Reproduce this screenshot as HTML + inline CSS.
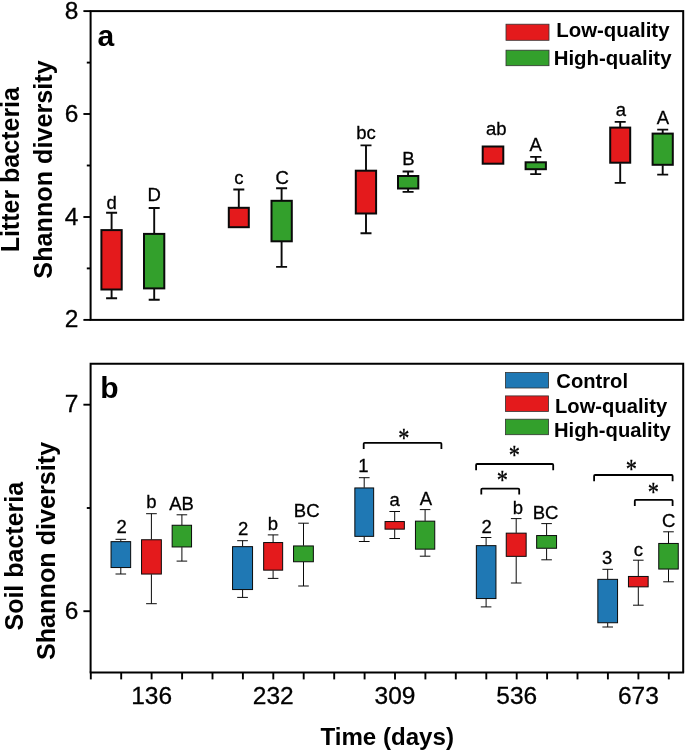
<!DOCTYPE html>
<html lang="en"><head><meta charset="utf-8"><title>Shannon diversity of litter and soil bacteria</title>
<style>html,body{margin:0;padding:0;background:#fff}body{width:685px;height:752px;overflow:hidden}</style></head>
<body>
<svg width="685" height="752" viewBox="0 0 685 752" style="display:block" font-family="'Liberation Sans', Arial, sans-serif" fill="#000">
<rect width="685" height="752" fill="#fff"/>
<rect x="90.6" y="11.1" width="592.6" height="308.8" fill="none" stroke="#000" stroke-width="2.0"/>
<path d="M90.6 319.9h-7.2" stroke="#000" stroke-width="1.9"/>
<text x="78.3" y="327.4" font-size="24.5" text-anchor="end" stroke="#000" stroke-width="0.3">2</text>
<path d="M90.6 217.0h-7.2" stroke="#000" stroke-width="1.9"/>
<text x="78.3" y="224.5" font-size="24.5" text-anchor="end" stroke="#000" stroke-width="0.3">4</text>
<path d="M90.6 114.0h-7.2" stroke="#000" stroke-width="1.9"/>
<text x="78.3" y="121.5" font-size="24.5" text-anchor="end" stroke="#000" stroke-width="0.3">6</text>
<path d="M90.6 11.1h-7.2" stroke="#000" stroke-width="1.9"/>
<text x="78.3" y="18.6" font-size="24.5" text-anchor="end" stroke="#000" stroke-width="0.3">8</text>
<path d="M90.6 268.4h-3.8" stroke="#000" stroke-width="1.9"/>
<path d="M90.6 165.5h-3.8" stroke="#000" stroke-width="1.9"/>
<path d="M90.6 62.6h-3.8" stroke="#000" stroke-width="1.9"/>
<path d="M111.6 229.6V212.7M106.1 212.7H117.1" stroke="#0a0a0a" stroke-width="1.9" fill="none"/><path d="M111.6 290.0V298.2M106.1 298.2H117.1" stroke="#0a0a0a" stroke-width="1.9" fill="none"/><rect x="101.40" y="230.10" width="20.30" height="59.40" fill="#e41a1c" stroke="#0a0a0a" stroke-width="2.0"/>
<text x="111.6" y="209.2" font-size="18.5" text-anchor="middle" stroke="#000" stroke-width="0.3">d</text>
<path d="M154.2 233.4V208.0M148.7 208.0H159.7" stroke="#0a0a0a" stroke-width="1.9" fill="none"/><path d="M154.2 288.9V299.7M148.7 299.7H159.7" stroke="#0a0a0a" stroke-width="1.9" fill="none"/><rect x="144.00" y="233.90" width="20.30" height="54.50" fill="#33a02c" stroke="#0a0a0a" stroke-width="2.0"/>
<text x="154.2" y="201.3" font-size="18.5" text-anchor="middle" stroke="#000" stroke-width="0.3">D</text>
<path d="M238.8 207.3V189.5M233.3 189.5H244.3" stroke="#0a0a0a" stroke-width="1.9" fill="none"/><rect x="228.80" y="207.80" width="20.00" height="19.40" fill="#e41a1c" stroke="#0a0a0a" stroke-width="2.0"/>
<text x="238.8" y="183.6" font-size="18.5" text-anchor="middle" stroke="#000" stroke-width="0.3">c</text>
<path d="M281.6 200.3V188.3M276.1 188.3H287.1" stroke="#0a0a0a" stroke-width="1.9" fill="none"/><path d="M281.6 241.8V266.9M276.1 266.9H287.1" stroke="#0a0a0a" stroke-width="1.9" fill="none"/><rect x="271.50" y="200.80" width="20.30" height="40.50" fill="#33a02c" stroke="#0a0a0a" stroke-width="2.0"/>
<text x="282.2" y="184.0" font-size="18.5" text-anchor="middle" stroke="#000" stroke-width="0.3">C</text>
<path d="M366.0 170.2V145.4M360.5 145.4H371.5" stroke="#0a0a0a" stroke-width="1.9" fill="none"/><path d="M366.0 214.0V233.3M360.5 233.3H371.5" stroke="#0a0a0a" stroke-width="1.9" fill="none"/><rect x="355.80" y="170.70" width="20.30" height="42.80" fill="#e41a1c" stroke="#0a0a0a" stroke-width="2.0"/>
<text x="366.0" y="139.0" font-size="18.5" text-anchor="middle" stroke="#000" stroke-width="0.3">bc</text>
<path d="M408.1 175.5V171.5M402.6 171.5H413.6" stroke="#0a0a0a" stroke-width="1.9" fill="none"/><path d="M408.1 189.0V191.9M402.6 191.9H413.6" stroke="#0a0a0a" stroke-width="1.9" fill="none"/><rect x="398.00" y="176.00" width="20.30" height="12.50" fill="#33a02c" stroke="#0a0a0a" stroke-width="2.0"/>
<text x="408.4" y="165.3" font-size="18.5" text-anchor="middle" stroke="#000" stroke-width="0.3">B</text>
<rect x="482.70" y="146.50" width="20.60" height="17.20" fill="#e41a1c" stroke="#0a0a0a" stroke-width="2.0"/>
<text x="496.2" y="134.7" font-size="18.5" text-anchor="middle" stroke="#000" stroke-width="0.3">ab</text>
<path d="M535.8 161.8V156.9M530.2 156.9H541.2" stroke="#0a0a0a" stroke-width="1.9" fill="none"/><path d="M535.8 169.7V174.1M530.2 174.1H541.2" stroke="#0a0a0a" stroke-width="1.9" fill="none"/><rect x="525.60" y="162.30" width="20.30" height="6.90" fill="#33a02c" stroke="#0a0a0a" stroke-width="2.0"/>
<text x="535.7" y="151.3" font-size="18.5" text-anchor="middle" stroke="#000" stroke-width="0.3">A</text>
<path d="M620.2 127.1V121.9M614.7 121.9H625.7" stroke="#0a0a0a" stroke-width="1.9" fill="none"/><path d="M620.2 163.2V182.9M614.7 182.9H625.7" stroke="#0a0a0a" stroke-width="1.9" fill="none"/><rect x="610.20" y="127.60" width="20.00" height="35.10" fill="#e41a1c" stroke="#0a0a0a" stroke-width="2.0"/>
<text x="620.8" y="116.1" font-size="18.5" text-anchor="middle" stroke="#000" stroke-width="0.3">a</text>
<path d="M662.7 133.1V129.6M657.2 129.6H668.2" stroke="#0a0a0a" stroke-width="1.9" fill="none"/><path d="M662.7 165.3V174.6M657.2 174.6H668.2" stroke="#0a0a0a" stroke-width="1.9" fill="none"/><rect x="652.60" y="133.60" width="20.20" height="31.20" fill="#33a02c" stroke="#0a0a0a" stroke-width="2.0"/>
<text x="662.8" y="123.5" font-size="18.5" text-anchor="middle" stroke="#000" stroke-width="0.3">A</text>
<text x="97.6" y="46.1" font-size="30" text-anchor="start" font-weight="bold">a</text>
<rect x="506" y="24.2" width="43" height="16.1" fill="#e41a1c" stroke="#333" stroke-width="0.8"/>
<text x="669.5" y="37.4" font-size="20.4" text-anchor="end" font-weight="bold">Low-quality</text>
<rect x="506" y="50.2" width="43" height="15.5" fill="#33a02c" stroke="#333" stroke-width="0.8"/>
<text x="671.5" y="64.8" font-size="20.4" text-anchor="end" font-weight="bold">High-quality</text>
<text transform="translate(19.3,169.7) rotate(-90)" font-size="25" font-weight="bold" text-anchor="middle">Litter bacteria</text>
<text transform="translate(51.9,169.5) rotate(-90)" font-size="25.2" font-weight="bold" text-anchor="middle">Shannon diversity</text>
<path d="M90.6 672.4V363.8H683.2V672.4" fill="none" stroke="#000" stroke-width="2.0"/>
<path d="M89.69999999999999 672.4H684.1" fill="none" stroke="#000" stroke-width="2.0"/>
<path d="M90.6 404.7h-7.2" stroke="#000" stroke-width="1.9"/>
<text x="78.3" y="412.2" font-size="24.5" text-anchor="end" stroke="#000" stroke-width="0.3">7</text>
<path d="M90.6 611.2h-7.2" stroke="#000" stroke-width="1.9"/>
<text x="78.3" y="618.7" font-size="24.5" text-anchor="end" stroke="#000" stroke-width="0.3">6</text>
<path d="M90.6 508.0h-3.8" stroke="#000" stroke-width="1.9"/>
<path d="M90.8 672.4v7" stroke="#000" stroke-width="1.9"/>
<path d="M121.2 672.4v7" stroke="#000" stroke-width="1.9"/>
<path d="M151.6 672.4v7" stroke="#000" stroke-width="1.9"/>
<path d="M182.1 672.4v7" stroke="#000" stroke-width="1.9"/>
<path d="M212.5 672.4v7" stroke="#000" stroke-width="1.9"/>
<path d="M242.9 672.4v7" stroke="#000" stroke-width="1.9"/>
<path d="M273.3 672.4v7" stroke="#000" stroke-width="1.9"/>
<path d="M303.7 672.4v7" stroke="#000" stroke-width="1.9"/>
<path d="M334.2 672.4v7" stroke="#000" stroke-width="1.9"/>
<path d="M364.6 672.4v7" stroke="#000" stroke-width="1.9"/>
<path d="M395.0 672.4v7" stroke="#000" stroke-width="1.9"/>
<path d="M425.4 672.4v7" stroke="#000" stroke-width="1.9"/>
<path d="M455.8 672.4v7" stroke="#000" stroke-width="1.9"/>
<path d="M486.3 672.4v7" stroke="#000" stroke-width="1.9"/>
<path d="M516.7 672.4v7" stroke="#000" stroke-width="1.9"/>
<path d="M547.1 672.4v7" stroke="#000" stroke-width="1.9"/>
<path d="M577.5 672.4v7" stroke="#000" stroke-width="1.9"/>
<path d="M607.9 672.4v7" stroke="#000" stroke-width="1.9"/>
<path d="M638.4 672.4v7" stroke="#000" stroke-width="1.9"/>
<path d="M668.8 672.4v7" stroke="#000" stroke-width="1.9"/>
<text x="151.6" y="704.0" font-size="24.5" text-anchor="middle" stroke="#000" stroke-width="0.3">136</text>
<text x="273.3" y="704.0" font-size="24.5" text-anchor="middle" stroke="#000" stroke-width="0.3">232</text>
<text x="395.0" y="704.0" font-size="24.5" text-anchor="middle" stroke="#000" stroke-width="0.3">309</text>
<text x="516.7" y="704.0" font-size="24.5" text-anchor="middle" stroke="#000" stroke-width="0.3">536</text>
<text x="638.4" y="704.0" font-size="24.5" text-anchor="middle" stroke="#000" stroke-width="0.3">673</text>
<text x="387.2" y="744.6" font-size="24.1" text-anchor="middle" font-weight="bold">Time (days)</text>
<path d="M120.8 541.4V539.3M115.5 539.3H126.1" stroke="#0a0a0a" stroke-width="1.0" fill="none"/><path d="M120.8 567.8V574.0M115.5 574.0H126.1" stroke="#0a0a0a" stroke-width="1.0" fill="none"/><rect x="111.05" y="541.65" width="19.60" height="25.90" fill="#1f78b4" stroke="#0a0a0a" stroke-width="1.0"/>
<text x="121.6" y="533.0" font-size="18.5" text-anchor="middle" stroke="#000" stroke-width="0.3">2</text>
<path d="M151.4 539.5V513.7M146.1 513.7H156.8" stroke="#0a0a0a" stroke-width="1.0" fill="none"/><path d="M151.4 574.3V603.7M146.1 603.7H156.8" stroke="#0a0a0a" stroke-width="1.0" fill="none"/><rect x="141.55" y="539.75" width="19.80" height="34.30" fill="#e41a1c" stroke="#0a0a0a" stroke-width="1.0"/>
<text x="151.4" y="507.9" font-size="18.5" text-anchor="middle" stroke="#000" stroke-width="0.3">b</text>
<path d="M181.9 525.0V514.8M176.6 514.8H187.2" stroke="#0a0a0a" stroke-width="1.0" fill="none"/><path d="M181.9 547.2V561.1M176.6 561.1H187.2" stroke="#0a0a0a" stroke-width="1.0" fill="none"/><rect x="172.15" y="525.25" width="19.40" height="21.70" fill="#33a02c" stroke="#0a0a0a" stroke-width="1.0"/>
<text x="181.5" y="509.8" font-size="18.5" text-anchor="middle" stroke="#000" stroke-width="0.3">AB</text>
<path d="M242.6 546.4V540.7M237.2 540.7H247.9" stroke="#0a0a0a" stroke-width="1.0" fill="none"/><path d="M242.6 589.8V597.4M237.2 597.4H247.9" stroke="#0a0a0a" stroke-width="1.0" fill="none"/><rect x="232.55" y="546.65" width="20.00" height="42.90" fill="#1f78b4" stroke="#0a0a0a" stroke-width="1.0"/>
<text x="243.1" y="535.4" font-size="18.5" text-anchor="middle" stroke="#000" stroke-width="0.3">2</text>
<path d="M273.1 542.3V534.9M267.8 534.9H278.4" stroke="#0a0a0a" stroke-width="1.0" fill="none"/><path d="M273.1 570.4V578.4M267.8 578.4H278.4" stroke="#0a0a0a" stroke-width="1.0" fill="none"/><rect x="263.65" y="542.55" width="19.00" height="27.60" fill="#e41a1c" stroke="#0a0a0a" stroke-width="1.0"/>
<text x="272.9" y="530.2" font-size="18.5" text-anchor="middle" stroke="#000" stroke-width="0.3">b</text>
<path d="M303.5 545.7V523.2M298.2 523.2H308.8" stroke="#0a0a0a" stroke-width="1.0" fill="none"/><path d="M303.5 562.0V586.0M298.2 586.0H308.8" stroke="#0a0a0a" stroke-width="1.0" fill="none"/><rect x="293.55" y="545.95" width="19.80" height="15.80" fill="#33a02c" stroke="#0a0a0a" stroke-width="1.0"/>
<text x="306.7" y="517.2" font-size="18.5" text-anchor="middle" stroke="#000" stroke-width="0.3">BC</text>
<path d="M364.2 487.7V477.7M358.9 477.7H369.6" stroke="#0a0a0a" stroke-width="1.0" fill="none"/><path d="M364.2 536.6V541.5M358.9 541.5H369.6" stroke="#0a0a0a" stroke-width="1.0" fill="none"/><rect x="354.85" y="487.95" width="18.80" height="48.40" fill="#1f78b4" stroke="#0a0a0a" stroke-width="1.0"/>
<text x="363.3" y="472.3" font-size="18.5" text-anchor="middle" stroke="#000" stroke-width="0.3">1</text>
<path d="M394.7 521.3V511.5M389.4 511.5H400.0" stroke="#0a0a0a" stroke-width="1.0" fill="none"/><path d="M394.7 529.4V538.5M389.4 538.5H400.0" stroke="#0a0a0a" stroke-width="1.0" fill="none"/><rect x="385.05" y="521.55" width="19.30" height="7.60" fill="#e41a1c" stroke="#0a0a0a" stroke-width="1.0"/>
<text x="394.6" y="506.2" font-size="18.5" text-anchor="middle" stroke="#000" stroke-width="0.3">a</text>
<path d="M425.1 520.9V509.6M419.8 509.6H430.4" stroke="#0a0a0a" stroke-width="1.0" fill="none"/><path d="M425.1 549.4V556.2M419.8 556.2H430.4" stroke="#0a0a0a" stroke-width="1.0" fill="none"/><rect x="415.45" y="521.15" width="19.30" height="28.00" fill="#33a02c" stroke="#0a0a0a" stroke-width="1.0"/>
<text x="425.9" y="504.7" font-size="18.5" text-anchor="middle" stroke="#000" stroke-width="0.3">A</text>
<path d="M486.1 545.4V537.5M480.8 537.5H491.4" stroke="#0a0a0a" stroke-width="1.0" fill="none"/><path d="M486.1 598.8V606.9M480.8 606.9H491.4" stroke="#0a0a0a" stroke-width="1.0" fill="none"/><rect x="476.35" y="545.65" width="19.60" height="52.90" fill="#1f78b4" stroke="#0a0a0a" stroke-width="1.0"/>
<text x="486.6" y="532.9" font-size="18.5" text-anchor="middle" stroke="#000" stroke-width="0.3">2</text>
<path d="M516.2 532.9V518.6M510.9 518.6H521.5" stroke="#0a0a0a" stroke-width="1.0" fill="none"/><path d="M516.2 556.6V583.0M510.9 583.0H521.5" stroke="#0a0a0a" stroke-width="1.0" fill="none"/><rect x="506.25" y="533.15" width="19.90" height="23.20" fill="#e41a1c" stroke="#0a0a0a" stroke-width="1.0"/>
<text x="517.8" y="513.8" font-size="18.5" text-anchor="middle" stroke="#000" stroke-width="0.3">b</text>
<path d="M546.6 535.3V523.6M541.3 523.6H551.9" stroke="#0a0a0a" stroke-width="1.0" fill="none"/><path d="M546.6 548.5V559.8M541.3 559.8H551.9" stroke="#0a0a0a" stroke-width="1.0" fill="none"/><rect x="536.65" y="535.55" width="19.90" height="12.70" fill="#33a02c" stroke="#0a0a0a" stroke-width="1.0"/>
<text x="545.5" y="519.0" font-size="18.5" text-anchor="middle" stroke="#000" stroke-width="0.3">BC</text>
<path d="M607.7 579.1V569.3M602.4 569.3H613.0" stroke="#0a0a0a" stroke-width="1.0" fill="none"/><path d="M607.7 623.0V627.0M602.4 627.0H613.0" stroke="#0a0a0a" stroke-width="1.0" fill="none"/><rect x="597.85" y="579.35" width="19.70" height="43.40" fill="#1f78b4" stroke="#0a0a0a" stroke-width="1.0"/>
<text x="607.2" y="564.2" font-size="18.5" text-anchor="middle" stroke="#000" stroke-width="0.3">3</text>
<path d="M638.3 576.2V560.2M633.0 560.2H643.6" stroke="#0a0a0a" stroke-width="1.0" fill="none"/><path d="M638.3 587.1V605.2M633.0 605.2H643.6" stroke="#0a0a0a" stroke-width="1.0" fill="none"/><rect x="628.45" y="576.45" width="19.70" height="10.40" fill="#e41a1c" stroke="#0a0a0a" stroke-width="1.0"/>
<text x="638.3" y="555.7" font-size="18.5" text-anchor="middle" stroke="#000" stroke-width="0.3">c</text>
<path d="M668.5 543.2V531.8M663.2 531.8H673.8" stroke="#0a0a0a" stroke-width="1.0" fill="none"/><path d="M668.5 569.3V581.8M663.2 581.8H673.8" stroke="#0a0a0a" stroke-width="1.0" fill="none"/><rect x="658.75" y="543.45" width="19.50" height="25.60" fill="#33a02c" stroke="#0a0a0a" stroke-width="1.0"/>
<text x="668.6" y="527.0" font-size="18.5" text-anchor="middle" stroke="#000" stroke-width="0.3">C</text>
<text x="100.3" y="398.0" font-size="30" text-anchor="start" font-weight="bold">b</text>
<path d="M363.7 449.0V443.8Q363.7 442.8 364.7 442.8H440.4Q441.4 442.8 441.4 443.8V449.0" fill="none" stroke="#000" stroke-width="1.8"/>
<text transform="translate(403.7,433.4) scale(0.93,1.16)" x="0" y="11.3" font-size="24" text-anchor="middle" font-family="'Liberation Serif', serif" stroke="#000" stroke-width="0.3">*</text>
<path d="M476.1 470.2V465.0Q476.1 464.0 477.1 464.0H552.2Q553.2 464.0 553.2 465.0V470.2" fill="none" stroke="#000" stroke-width="1.8"/>
<text transform="translate(514.2,451.0) scale(0.93,1.16)" x="0" y="11.3" font-size="24" text-anchor="middle" font-family="'Liberation Serif', serif" stroke="#000" stroke-width="0.3">*</text>
<path d="M481.3 494.6V489.6Q481.3 488.6 482.3 488.6H518.2Q519.2 488.6 519.2 489.6V494.6" fill="none" stroke="#000" stroke-width="1.8"/>
<text transform="translate(502.2,476.2) scale(0.93,1.16)" x="0" y="11.3" font-size="24" text-anchor="middle" font-family="'Liberation Serif', serif" stroke="#000" stroke-width="0.3">*</text>
<path d="M594.1 481.2V476.0Q594.1 475.0 595.1 475.0H671.6Q672.6 475.0 672.6 476.0V481.2" fill="none" stroke="#000" stroke-width="1.8"/>
<text transform="translate(631.4,464.7) scale(0.93,1.16)" x="0" y="11.3" font-size="24" text-anchor="middle" font-family="'Liberation Serif', serif" stroke="#000" stroke-width="0.3">*</text>
<path d="M634.8 506.0V500.8Q634.8 499.8 635.8 499.8H671.6Q672.6 499.8 672.6 500.8V506.0" fill="none" stroke="#000" stroke-width="1.8"/>
<text transform="translate(653.2,487.9) scale(0.93,1.16)" x="0" y="11.3" font-size="24" text-anchor="middle" font-family="'Liberation Serif', serif" stroke="#000" stroke-width="0.3">*</text>
<rect x="505.4" y="372.5" width="43.2" height="15.5" fill="#1f78b4" stroke="#333" stroke-width="0.8"/>
<text x="556.3" y="388.1" font-size="20.2" text-anchor="start" font-weight="bold">Control</text>
<rect x="505.4" y="395.9" width="43.2" height="15.5" fill="#e41a1c" stroke="#333" stroke-width="0.8"/>
<text x="555.0" y="412.5" font-size="20.2" text-anchor="start" font-weight="bold">Low-quality</text>
<rect x="505.4" y="419.2" width="43.2" height="15.5" fill="#33a02c" stroke="#333" stroke-width="0.8"/>
<text x="554.0" y="436.5" font-size="20.2" text-anchor="start" font-weight="bold">High-quality</text>
<text transform="translate(22.5,556.2) rotate(-90)" font-size="25" font-weight="bold" text-anchor="middle">Soil bacteria</text>
<text transform="translate(54.8,550.9) rotate(-90)" font-size="25.2" font-weight="bold" text-anchor="middle">Shannon diversity</text>
</svg>
</body></html>
